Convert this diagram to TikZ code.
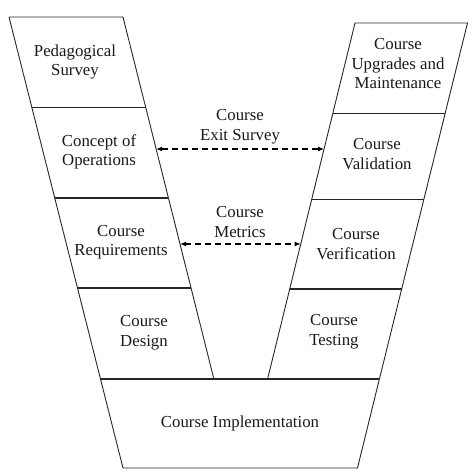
\documentclass[tikz,border=0pt]{standalone}
\usepackage{fontspec}
\setmainfont{Liberation Serif}
\usetikzlibrary{arrows.meta}
\begin{document}
\begin{tikzpicture}[x=1pt,y=1pt,
  edge/.style={draw=black!85, line width=0.9pt, line join=miter},
  thick divider/.style={draw=black!85, line width=1.6pt},
  lbl/.style={align=center, font=\fontsize{16.8}{19.5}\selectfont, text=black!90, inner sep=0pt},
  link/.style={draw=black, line width=1.2pt, dash pattern=on 6pt off 4pt, {Latex[length=6pt,width=5pt]}-{Latex[length=6pt,width=5pt]}}]
\useasboundingbox (0,0) rectangle (474,474);
% left column
\coordinate (L0) at (9,457);   \coordinate (R0) at (123,457);
\coordinate (L1) at (31.8,367); \coordinate (R1) at (145.6,367);
\coordinate (L2) at (54.8,276); \coordinate (R2) at (168.4,276);
\coordinate (L3) at (77.5,186); \coordinate (R3) at (191,186);
\coordinate (L4) at (100.5,95); \coordinate (R4) at (213.9,95);
% right column
\coordinate (P0) at (355,451);   \coordinate (Q0) at (467.5,451);
\coordinate (P1) at (332.9,361); \coordinate (Q1) at (445.3,361);
\coordinate (P2) at (311.8,275); \coordinate (Q2) at (424,275);
\coordinate (P3) at (289.7,185); \coordinate (Q3) at (401.7,185);
\coordinate (P4) at (267.6,95);  \coordinate (Q4) at (379.4,95);
% bottom
\coordinate (B1) at (123,6); \coordinate (B2) at (357.5,6);
\draw[edge] (L0) -- (R0) -- (R4) (L0) -- (L4) -- (B1) -- (B2) -- (Q4) -- (Q0) -- (P0) -- (P4);
\draw[edge] (L1) -- (R1) (P1) -- (Q1) (P2) -- (Q2);
\draw[thick divider] (L2) -- (R2) (L3) -- (R3) (P3) -- (Q3);
\draw[edge, line width=1.2pt] (L4) -- (Q4);
% labels
\node[lbl] (ped) at (75,412) {Pedagogical\\Survey};
\node[lbl] (con) at (99,322) {Concept of\\Operations};
\node[lbl] (req) at (121,232) {Course\\Requirements};
\node[lbl] (des) at (144,141) {Course\\Design};
\node[lbl] (imp) at (240,51) {Course Implementation};
\node[lbl] (upg) at (398,410) {Course\\Upgrades and\\Maintenance};
\node[lbl] (val) at (377,320) {Course\\Validation};
\node[lbl] (ver) at (356,230) {Course\\Verification};
\node[lbl] (tes) at (334,142) {Course\\Testing};
\node[lbl] (exit) at (240,347) {Course\\Exit Survey};
\node[lbl] (met) at (240,252) {Course\\Metrics};
% connectors
\coordinate (a1) at (156.1,325); \coordinate (b1) at (324.1,325);
\coordinate (a2) at (180,230);   \coordinate (b2) at (300.7,230);
\draw[link] (a1) -- (b1);
\draw[link] (a2) -- (b2);
\end{tikzpicture}
\end{document}
